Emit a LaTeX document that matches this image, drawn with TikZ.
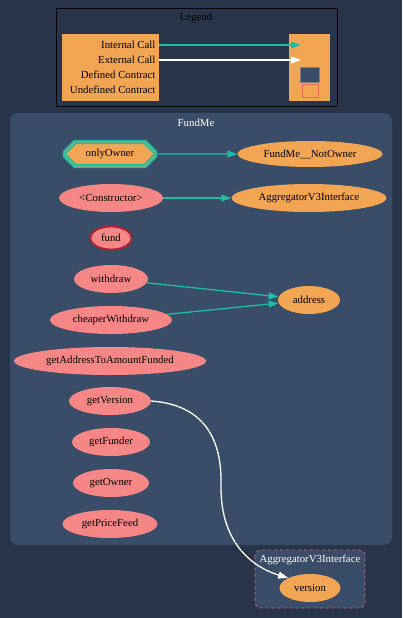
\documentclass[tikz,border=0pt]{standalone}
\usepackage{fontspec}
\setmainfont{Liberation Serif}
\usetikzlibrary{arrows.meta,shapes.geometric,shapes.misc}
\definecolor{bgnavy}{RGB}{40,52,73}
\definecolor{clusterblue}{RGB}{58,77,104}
\definecolor{callteal}{RGB}{27,190,160}
\definecolor{extorange}{RGB}{242,166,84}
\definecolor{fnpink}{RGB}{247,134,134}
\definecolor{fundred}{RGB}{185,30,40}
\definecolor{dashrose}{RGB}{210,100,122}
\definecolor{undefborder}{RGB}{232,112,72}

\begin{document}
\begin{tikzpicture}[x=1pt,y=-1pt,
  every node/.style={font=\fontsize{10.8}{12}\selectfont},
  fn/.style={ellipse,fill=fnpink,minimum height=28pt,inner sep=0pt},
  ext/.style={ellipse,fill=extorange,minimum height=28pt,inner sep=0pt},
  internal/.style={callteal,line width=1.3pt,-{Triangle[length=10pt,width=7pt]}},
  external/.style={white,line width=1.3pt,-{Triangle[length=10pt,width=7pt]}}]
  \fill[bgnavy] (0,0) rectangle (402,618);
  \useasboundingbox (0,0) rectangle (402,618);
  % legend
  \draw[black,fill=bgnavy] (56,8) rectangle (337,106);
  \node (legend) at (196,18) {Legend};
  \fill[extorange] (62,34) rectangle (159,101);
  \fill[extorange] (289,34) rectangle (330,101);
  \node[left] (lint) at (159,45) {Internal Call};
  \node[left] (lext) at (159,60) {External Call};
  \node[left] (ldef) at (159,75) {Defined Contract};
  \node[left] (lund) at (159,90) {Undefined Contract};
  \coordinate (rint) at (301,45);
  \coordinate (rext) at (301,60);
  \draw[internal] (lint.east) -- (rint);
  \draw[external] (lext.east) -- (rext);
  \draw[gray,fill=clusterblue] (300,67) rectangle (319,82);
  \draw[undefborder,thin,fill=extorange] (302,84) rectangle (318,97);
  % FundMe cluster
  \fill[clusterblue,rounded corners=8pt] (10,113) rectangle (392,545);
  \node[white] (fundme) at (196,123) {FundMe};
  \node[chamfered rectangle,chamfered rectangle xsep=7pt,draw=callteal,
    double=callteal!45!extorange,double distance=1pt,line width=1.7pt,fill=extorange,
    minimum width=90pt,minimum height=24pt] (only) at (110,154) {onlyOwner};
  \node[ext,minimum width=145pt,minimum height=26pt] (notowner) at (310,154) {FundMe\_\_NotOwner};
  \node[fn,minimum width=104pt] (ctor) at (111,198) {<Constructor>};
  \node[ext,minimum width=155pt] (aggr) at (309,198) {AggregatorV3Interface};
  \node[fn,draw=fundred,line width=1.8pt,minimum width=41pt,minimum height=23pt] (fund) at (111,238) {fund};
  \node[fn,minimum width=74pt] (withdraw) at (111,279) {withdraw};
  \node[ext,minimum width=62pt] (address) at (309,300) {address};
  \node[fn,minimum width=122pt] (cheaper) at (111,320) {cheaperWithdraw};
  \node[fn,minimum width=192pt] (getaddr) at (110,361) {getAddressToAmountFunded};
  \node[fn,minimum width=82pt] (getversion) at (110,401) {getVersion};
  \node[fn,minimum width=78pt] (getfunder) at (111,442) {getFunder};
  \node[fn,minimum width=76pt] (getowner) at (111,483) {getOwner};
  \node[fn,minimum width=95pt] (getfeed) at (110,524) {getPriceFeed};
  % AggregatorV3Interface cluster
  \draw[dashrose,dashed,line width=0.8pt,fill=clusterblue,rounded corners=6pt] (255,550) rectangle (365,608);
  \node[white] (aggrtitle) at (310,560) {AggregatorV3Interface};
  \node[ext,minimum width=61pt] (version) at (310,588) {version};
  % calls
  \draw[internal] (only) -- (notowner);
  \draw[internal] (ctor) -- (aggr);
  \draw[internal] (withdraw) -- (address);
  \draw[internal] (cheaper) -- (address);
  \draw[external] (getversion.east)
    .. controls (205,405) and (222,440) .. (221,485)
    .. controls (220,545) and (255,568) .. (version.north west);
\end{tikzpicture}
\end{document}
